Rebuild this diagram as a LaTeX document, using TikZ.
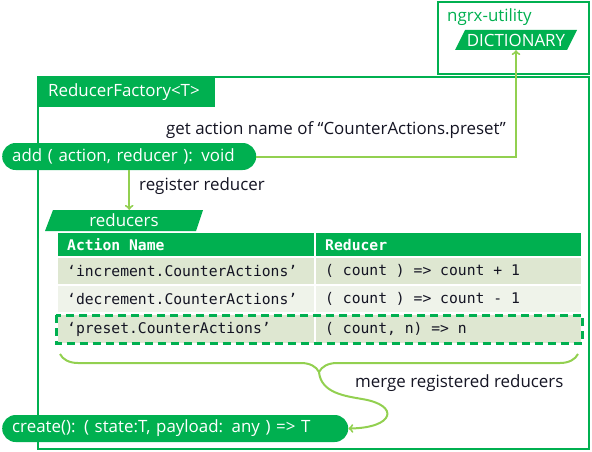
\documentclass[tikz,border=0pt]{standalone}
\usepackage{fontspec}
\setmainfont{Open Sans}
\newfontfamily\codefamily{DejaVu Sans Mono}
\usetikzlibrary{shapes,arrows,positioning,decorations.pathreplacing}

\definecolor{grn}{RGB}{0,176,80}
\definecolor{lgrn}{RGB}{146,208,80}
\definecolor{rowdark}{RGB}{222,231,209}
\definecolor{rowlight}{RGB}{239,243,234}
\definecolor{ink}{RGB}{20,20,35}

% one full character cell of blank in the code columns
\newcommand{\csp}{\hspace*{0.602em}}

\begin{document}
\begin{tikzpicture}[%
    x=1pt, y=-1pt,              % Work on the pixel grid, top to bottom
    >=to,                       % Open arrow heads
    font=\fontsize{16.9}{18}\selectfont,
    text=ink,
    ]
% -------------------------------------------------
% Box styles
\tikzset{
  frame/.style={draw=grn, line width=2pt},
  pill/.style={rectangle, rounded corners=13.5pt, fill=grn, text=white,
    minimum height=27pt, inner xsep=10pt, inner ysep=0pt, align=left, anchor=west},
  tab/.style={rectangle, fill=grn, text=white, anchor=north west,
    minimum height=30pt, inner xsep=10pt, inner ysep=0pt, align=left},
  bantext/.style={text=white, inner sep=0pt, minimum height=20pt},
  lbl/.style={inner sep=0pt, anchor=west},
  cell/.style={rectangle, anchor=north west, inner xsep=9pt, inner ysep=0pt,
    align=left, font=\codefamily\fontsize{14.7}{16}\selectfont},
  hdr/.style={cell, fill=grn, text=white, minimum height=23pt,
    font=\codefamily\bfseries\fontsize{14.7}{16}\selectfont},
  % Connector line styles
  link/.style={draw=lgrn, line width=2pt},
  hilite/.style={draw=grn, line width=3pt, dash pattern=on 8pt off 5pt}
}
\useasboundingbox (0,0) rectangle (592,452);
% -------------------------------------------------
% Outer frames
\draw [frame] (438,2) rectangle (589,74);
\draw [frame] (38,77) rectangle (589,449);

% ngrx-utility box
\node [lbl, text=grn] (util) at (447,17) {ngrx-utility};
\fill [grn] (455,50) -- (465,30) -- (577,30) -- (567,50) -- cycle;
\node [bantext] (dict) at (516,40) {DICTIONARY};

% ReducerFactory
\node [tab, text width=157pt] (factory) at (38,77) {ReducerFactory<T>};
\node [pill, text width=234pt] (add) at (2,156.5) {add ( action, reducer ): void};
\node [lbl] (getname) at (166,130) {get action name of “CounterActions.preset”};
\node [lbl] (register) at (139,186) {register reducer};

% reducers table
\fill [grn] (45,231) -- (53,210) -- (203,210) -- (196,231) -- cycle;
\node [bantext, minimum height=21pt] (reducers) at (124,220.5) {reducers};

\node [hdr, minimum width=256pt, text width=238pt] (hdrA) at (58,233) {Action\csp Name};
\node [hdr, minimum width=265pt, text width=247pt] (hdrB) at (316,233) {Reducer};

\node [cell, fill=rowdark, minimum width=256pt, text width=238pt, minimum height=26pt]
  (incA) at (58,258) {‘increment.CounterActions’};
\node [cell, fill=rowdark, minimum width=265pt, text width=247pt, minimum height=26pt]
  (incB) at (316,258) {(\csp count\csp)\csp=>\csp count\csp+\csp1};
\node [cell, fill=rowlight, minimum width=256pt, text width=238pt, minimum height=26pt]
  (decA) at (58,286) {‘decrement.CounterActions’};
\node [cell, fill=rowlight, minimum width=265pt, text width=247pt, minimum height=26pt]
  (decB) at (316,286) {(\csp count\csp)\csp=>\csp count\csp-\csp1};
\node [cell, fill=rowdark, minimum width=256pt, text width=238pt, minimum height=28pt]
  (preA) at (58,315) {‘preset.CounterActions’};
\node [cell, fill=rowdark, minimum width=265pt, text width=247pt, minimum height=28pt]
  (preB) at (316,315) {(\csp count,\csp n)\csp=>\csp n};
\draw [hilite] ([xshift=-2pt]preA.north west) rectangle ([xshift=1pt]preB.south east);

% create
\node [pill, text width=326pt] (create) at (2,428.5) {create(): ( state:T, payload: any ) => T};
\node [lbl] (merge) at (355,383) {merge registered reducers};

% -------------------------------------------------
% Connectors
\draw [link, ->] (add.east) -| (dict.south);
\draw [link, ->] (add.south) -- (add.south |- reducers.north);
\draw [link, decorate, decoration={brace, amplitude=18pt, mirror}] (60,354) -- (578,354);
\coordinate (bracetip) at (319,372);
\draw [link, ->] (bracetip) .. controls (321,393) and (345,396) .. (362,399)
  .. controls (400,405) and (395,428) .. (create.east);
% -------------------------------------------------
\end{tikzpicture}
\end{document}
